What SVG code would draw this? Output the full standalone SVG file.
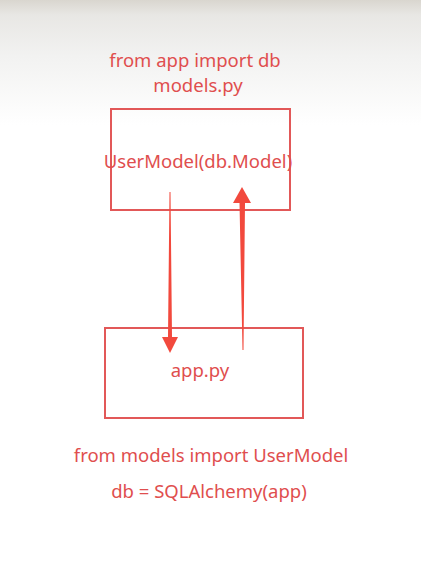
<svg xmlns="http://www.w3.org/2000/svg" width="421" height="570" viewBox="0 0 421 570">
<defs>
<linearGradient id="bg" x1="0" y1="0" x2="0" y2="1">
<stop offset="0" stop-color="#d9d6cf"/>
<stop offset="0.12" stop-color="#e8e7e4"/>
<stop offset="0.45" stop-color="#f2f2f1"/>
<stop offset="1" stop-color="#ffffff"/>
</linearGradient>
<style>
text{font-family:"Noto Sans","Open Sans",sans-serif;fill:#e04e4e;font-size:18.5px;text-anchor:middle}
.box{fill:none;stroke:#e25858;stroke-width:2}
.arrow{fill:#f2493d}
</style>
</defs>
<rect x="0" y="0" width="421" height="570" fill="#ffffff"/>
<rect x="0" y="0" width="421" height="125" fill="url(#bg)"/>
<text x="195" y="67">from app import db</text>
<text x="198" y="92">models.py</text>
<g id="models">
<rect class="box" x="111" y="109" width="179" height="101"/>
<text x="198" y="168">UserModel(db.Model)</text>
</g>
<g id="app">
<rect class="box" x="105" y="328" width="198" height="90"/>
<text x="200" y="377">app.py</text>
</g>
<text x="211" y="462">from models import UserModel</text>
<text x="209" y="498">db = SQLAlchemy(app)</text>
<g id="connectors">
<polygon class="arrow" points="169.5,192 170.5,192 172,337 178,337 170,353 162,337 168,337"/>
<polygon class="arrow" points="242.5,350 243.5,350 245,203 251,203 242,187 233,203 239.5,203"/>
</g>
</svg>
